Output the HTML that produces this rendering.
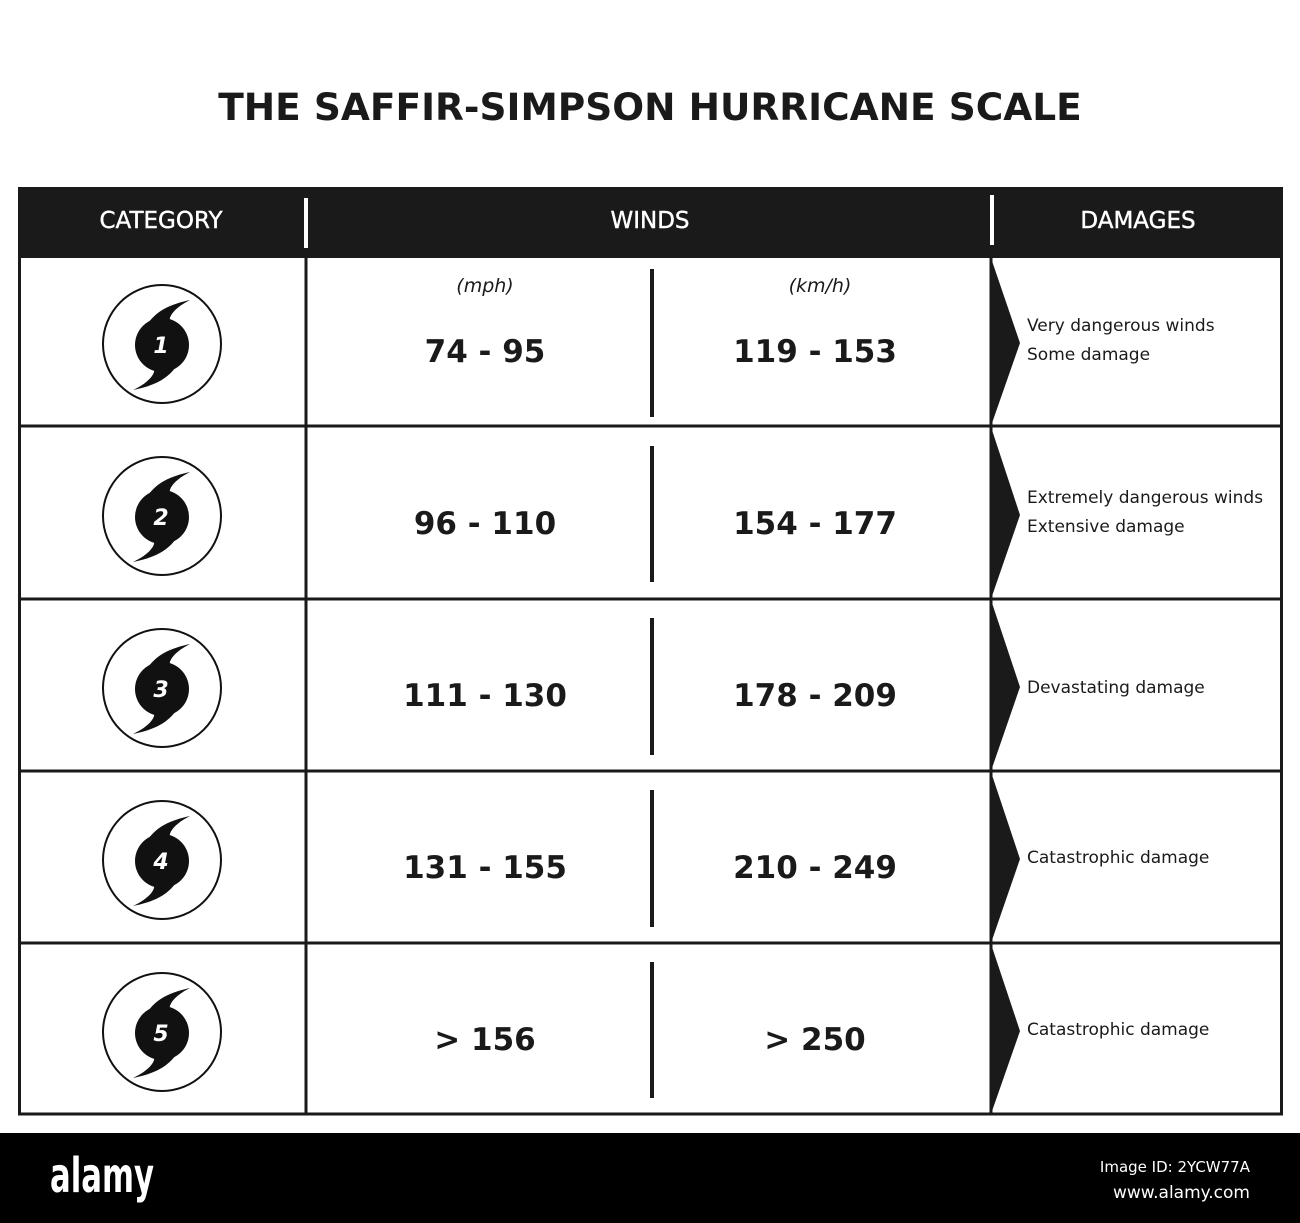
<!DOCTYPE html>
<html><head><meta charset="utf-8"><style>
html,body{margin:0;padding:0;background:#fff;}
svg{display:block;}
text{font-family:"DejaVu Sans","Liberation Sans",sans-serif;}
</style></head><body>
<svg width="1300" height="1223" viewBox="0 0 1300 1223" xmlns="http://www.w3.org/2000/svg">
<defs>
<g id="hur">
<circle cx="0" cy="0" r="59" fill="#fff" stroke="#111" stroke-width="2"/>
<circle cx="0" cy="1" r="27" fill="#111"/>
<path d="M-18,-14 C-8,-34 10,-40 28,-44 C14,-37 6,-28 8,-22 Z" fill="#111"/>
<path d="M18,16 C8,36 -10,42 -29,46 C-14,39 -6,30 -8,24 Z" fill="#111"/>
</g>
</defs>
<text x="650" y="120" text-anchor="middle" font-size="37.5" font-weight="bold" fill="#1a1a1a">THE SAFFIR-SIMPSON HURRICANE SCALE</text>
<rect x="18" y="187" width="1265" height="71" fill="#1a1a1a"/>
<rect x="304" y="198" width="4" height="50" fill="#fff"/>
<rect x="990" y="195" width="4" height="50" fill="#fff"/>
<g font-size="23" fill="#fff" text-anchor="middle" font-weight="500" stroke="#fff" stroke-width="0.4">
<text x="161" y="228">CATEGORY</text>
<text x="650" y="228">WINDS</text>
<text x="1138" y="228">DAMAGES</text>
</g>
<g fill="none" stroke="#1a1a1a" stroke-width="3">
<line x1="19.5" y1="257" x2="19.5" y2="1114"/>
<line x1="1281.5" y1="257" x2="1281.5" y2="1114"/>
<line x1="306" y1="257" x2="306" y2="1114"/>
<line x1="991" y1="257" x2="991" y2="1114"/>
<line x1="18" y1="426" x2="1283" y2="426"/>
<line x1="18" y1="599" x2="1283" y2="599"/>
<line x1="18" y1="771" x2="1283" y2="771"/>
<line x1="18" y1="943" x2="1283" y2="943"/>
<line x1="18" y1="1114" x2="1283" y2="1114"/>
</g>
<g fill="#1a1a1a">
<path d="M991,258 L1020,343 L991,426 Z"/>
<path d="M991,427 L1020,515 L991,599 Z"/>
<path d="M991,600 L1020,687 L991,771 Z"/>
<path d="M991,772 L1020,859 L991,943 Z"/>
<path d="M991,944 L1020,1031 L991,1114 Z"/>
<rect x="650" y="269" width="4" height="148"/>
<rect x="650" y="446" width="4" height="136"/>
<rect x="650" y="618" width="4" height="137"/>
<rect x="650" y="790" width="4" height="137"/>
<rect x="650" y="962" width="4" height="136"/>
</g>
<use href="#hur" x="162" y="344"/>
<use href="#hur" x="162" y="516"/>
<use href="#hur" x="162" y="688"/>
<use href="#hur" x="162" y="860"/>
<use href="#hur" x="162" y="1032"/>
<g font-size="22" font-weight="bold" font-style="italic" fill="#fff" text-anchor="middle">
<text x="161" y="353">1</text><text x="161" y="525">2</text><text x="161" y="697">3</text><text x="161" y="869">4</text><text x="161" y="1041">5</text>
</g>
<g font-size="19" font-style="italic" fill="#1a1a1a" text-anchor="middle">
<text x="485" y="292">(mph)</text><text x="820" y="292">(km/h)</text>
</g>
<g font-size="31" font-weight="bold" fill="#1a1a1a" text-anchor="middle">
<text x="485" y="362">74 - 95</text><text x="815" y="362">119 - 153</text>
<text x="485" y="534">96 - 110</text><text x="815" y="534">154 - 177</text>
<text x="485" y="706">111 - 130</text><text x="815" y="706">178 - 209</text>
<text x="485" y="878">131 - 155</text><text x="815" y="878">210 - 249</text>
<text x="485" y="1050">&gt; 156</text><text x="815" y="1050">&gt; 250</text>
</g>
<g font-size="17" fill="#1a1a1a">
<text x="1027" y="331">Very dangerous winds</text><text x="1027" y="360">Some damage</text>
<text x="1027" y="503">Extremely dangerous winds</text><text x="1027" y="532">Extensive damage</text>
<text x="1027" y="693">Devastating damage</text>
<text x="1027" y="863">Catastrophic damage</text>
<text x="1027" y="1035">Catastrophic damage</text>
</g>
<rect x="0" y="1133" width="1300" height="90" fill="#000"/>
<text x="50" y="1192" font-size="48" font-weight="bold" fill="#fff" font-family="Liberation Sans Narrow,Liberation Sans,sans-serif" textLength="104" lengthAdjust="spacingAndGlyphs">alamy</text>
<text x="1250" y="1172" text-anchor="end" font-size="15" fill="#fff">Image ID: 2YCW77A</text>
<text x="1250" y="1198" text-anchor="end" font-size="17" fill="#fff">www.alamy.com</text>
</svg>
</body></html>
